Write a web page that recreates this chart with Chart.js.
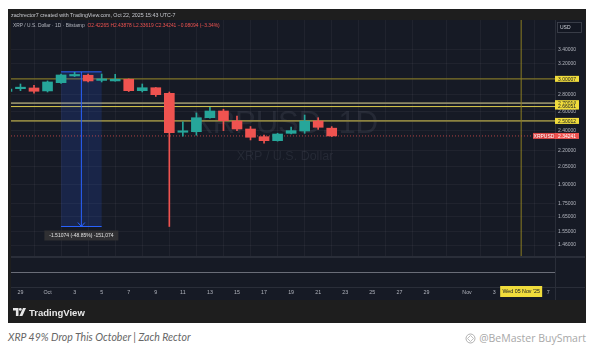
<!DOCTYPE html>
<html>
<head>
<meta charset="utf-8">
<script src="https://cdn.jsdelivr.net/npm/chart.js@4.4.1/dist/chart.umd.min.js"></script>
<style>
  body { margin: 0; background: #fff; width: 592px; height: 352px; position: relative; overflow: hidden; font-family: "Liberation Sans", Arial, sans-serif; }
  #panel { position: absolute; left: 8px; top: 9px; width: 578px; height: 314px; background: #1e1e1e; }
  #chart { position: absolute; left: 0; top: 0; }
  .hdr { position: absolute; left: 3px; top: 3px; font-size: 5.3px; color: #c8cad0; white-space: nowrap; }
  .legend { position: absolute; left: 5px; top: 14px; font-size: 4.9px; color: #b2b5be; white-space: nowrap; }
  .legend .v { color: #ef5350; margin-left: 1.5px; }
  .tv { position: absolute; left: 5px; top: 297px; height: 12px; display: flex; align-items: center; gap: 3px; color: #e8e8e8; font-weight: bold; font-size: 9.5px; }
  .caption { position: absolute; left: 8px; top: 331px; font-family: Lato, "Open Sans", sans-serif; font-style: italic; font-size: 10.5px; color: #666; }
  .mark { position: absolute; right: 6px; top: 331px; font-family: "Open Sans", sans-serif; font-size: 10.5px; color: #a8a8a8; display: flex; align-items: center; gap: 3px; }
</style>
</head>
<body>
<div id="panel">
  <canvas id="chart" width="578" height="314"></canvas>
  <div class="hdr">zachrector7 created with TradingView.com, Oct 22, 2025 15:43 UTC-7</div>
  <div class="legend">XRP / U.S. Dollar · 1D · Bitstamp <span class="v">O2.42265</span><span class="v">H2.43878</span><span class="v">L2.33619</span><span class="v">C2.34241</span><span class="v">−0.08094 (−3.34%)</span></div>
  <div class="tv">
    <svg width="13" height="8" viewBox="0 0 13 8"><path d="M0 0h5.5v8h-2.6v-5.4H0z" fill="#e8e8e8"/><circle cx="7.3" cy="1.4" r="1.4" fill="#e8e8e8"/><path d="M10 0h3l-3.6 8H6.4z" fill="#e8e8e8"/></svg>
    <span>TradingView</span>
  </div>
</div>
<div class="caption">XRP 49% Drop This October | Zach Rector</div>
<div class="mark">
  <svg width="11" height="11" viewBox="0 0 11 11"><circle cx="5.5" cy="5.5" r="4.5" fill="none" stroke="#b0b0b0" stroke-width="1"/><path d="M5.5 2.5l3 3-3 3-3-3z" fill="none" stroke="#b0b0b0" stroke-width="0.8"/></svg>
  <span>@BeMaster BuySmart</span>
</div>
<script>
// daily candles, Sep 28 .. Oct 22 (day index = i - 1, Sep 29 = 0)
const days   = ['Sep 28','Sep 29','Sep 30','Oct 1','Oct 2','Oct 3','Oct 4','Oct 5','Oct 6','Oct 7','Oct 8','Oct 9','Oct 10',
                'Oct 11','Oct 12','Oct 13','Oct 14','Oct 15','Oct 16','Oct 17','Oct 18','Oct 19','Oct 20','Oct 21','Oct 22'];
const opens  = [2.840, 2.875, 2.884, 2.847, 2.951, 3.038, 3.047, 2.980, 2.973, 2.995, 2.850, 2.887, 2.818,
                2.380, 2.386, 2.535, 2.610, 2.499, 2.414, 2.335, 2.295, 2.369, 2.393, 2.499, 2.42265];
const highs  = [2.890, 2.934, 2.918, 2.973, 3.064, 3.087, 3.064, 3.064, 3.060, 3.000, 2.934, 2.890, 2.834,
                2.490, 2.588, 2.652, 2.630, 2.554, 2.440, 2.352, 2.370, 2.435, 2.565, 2.535, 2.43878];
const lows   = [2.820, 2.850, 2.820, 2.834, 2.940, 3.030, 2.960, 2.960, 2.970, 2.840, 2.834, 2.780, 1.582,
                2.340, 2.350, 2.530, 2.397, 2.397, 2.302, 2.269, 2.290, 2.362, 2.369, 2.410, 2.33619];
const closes = [2.870, 2.884, 2.843, 2.960, 3.051, 3.051, 2.973, 2.988, 2.995, 2.850, 2.887, 2.801, 2.376,
                2.393, 2.535, 2.610, 2.503, 2.414, 2.329, 2.295, 2.362, 2.397, 2.499, 2.432, 2.34241];

const xTickDays   = [0, 2, 4, 6, 8, 10, 12, 14, 16, 18, 20, 22, 24, 26, 28, 30, 33, 35, 37, 39];
const xTickLabels = ['29','Oct','3','5','7','9','11','13','15','17','19','21','23','25','27','29','Nov','3','','7'];
const yTicks = [3.4, 3.2, 3.0, 2.8, 2.6, 2.4, 2.2, 2.05, 1.9, 1.75, 1.65, 1.55, 1.46];

const levelPrices = [3.00007, 2.70014, 2.66051, 2.50012];
const lastPrice = 2.34241;
const markerDay = 37;
const markerLabel = "Wed 05 Nov '25";
const measureDays = [3, 6];
const measurePrices = [3.0926, 1.5819];
const measureLabel = '-1.51074 (-48.85%) -151,074';

const UP = '#26a69a', DOWN = '#ef5350';
const levelColors = ['#7c7226', '#8e8a66', '#d9c94a', '#8b8240'];
const levelWidths = [1.2, 1.6, 1, 1.6];
const candleColors = opens.map((o, i) => closes[i] >= o ? UP : DOWN);

const tvPlugin = {
  id: 'tv',
  beforeDraw(chart) {
    const ctx = chart.ctx, a = chart.chartArea;
    ctx.save();
    ctx.fillStyle = '#161a25';
    ctx.fillRect(a.left, a.top, 577 - a.left, 291 - a.top);
    ctx.restore();
  },
  beforeDatasetsDraw(chart) {
    const ctx = chart.ctx, a = chart.chartArea, x = chart.scales.x, y = chart.scales.y;
    ctx.save();
    // symbol watermark
    ctx.fillStyle = 'rgba(140,145,160,0.13)';
    ctx.textAlign = 'center';
    ctx.textBaseline = 'middle';
    ctx.font = '31px "Liberation Sans", Arial, sans-serif';
    ctx.fillText('XRPUSD, 1D', (a.left + a.right) / 2 + 2, 115);
    ctx.font = '12.5px "Liberation Sans", Arial, sans-serif';
    ctx.fillText('XRP / U.S. Dollar', (a.left + a.right) / 2 + 2, 148);

    // horizontal levels
    levelPrices.forEach((p, i) => {
      const py = y.getPixelForValue(p);
      ctx.strokeStyle = levelColors[i];
      ctx.lineWidth = levelWidths[i];
      ctx.beginPath(); ctx.moveTo(a.left, py); ctx.lineTo(a.right, py); ctx.stroke();
    });
    // vertical marker
    const mx = x.getPixelForValue(markerDay);
    ctx.strokeStyle = '#8a7d22';
    ctx.lineWidth = 1;
    ctx.beginPath(); ctx.moveTo(mx, a.top); ctx.lineTo(mx, a.bottom); ctx.stroke();

    // measure box
    const bx1 = x.getPixelForValue(measureDays[0]), bx2 = x.getPixelForValue(measureDays[1]);
    const by1 = y.getPixelForValue(measurePrices[0]), by2 = y.getPixelForValue(measurePrices[1]);
    ctx.fillStyle = 'rgba(41,98,255,0.16)';
    ctx.fillRect(bx1, by1, bx2 - bx1, by2 - by1);
    ctx.strokeStyle = '#2962ff';
    ctx.lineWidth = 1;
    const amx = (bx1 + bx2) / 2;
    ctx.beginPath();
    ctx.moveTo(bx1, by1); ctx.lineTo(bx2, by1);
    ctx.moveTo(bx1, by2); ctx.lineTo(bx2, by2);
    ctx.moveTo(amx, by1); ctx.lineTo(amx, by2);
    ctx.moveTo(amx - 3.5, by2 - 4); ctx.lineTo(amx, by2); ctx.lineTo(amx + 3.5, by2 - 4);
    ctx.stroke();

    // last price line
    const ly = y.getPixelForValue(lastPrice);
    ctx.strokeStyle = 'rgba(239,83,80,0.7)';
    ctx.setLineDash([1, 2]);
    ctx.beginPath(); ctx.moveTo(a.left, ly); ctx.lineTo(a.right, ly); ctx.stroke();
    ctx.restore();
  },
  afterDraw(chart) {
    const ctx = chart.ctx, a = chart.chartArea, x = chart.scales.x, y = chart.scales.y;
    ctx.save();
    // pane separators
    ctx.fillStyle = '#2a2e39';
    ctx.fillRect(a.left, a.bottom - 1, 577 - a.left, 2);
    ctx.fillRect(a.left, 278, 577 - a.left, 1);
    ctx.fillRect(a.right, a.top, 1, 291 - a.top);
    ctx.fillStyle = '#6a6d78';
    ctx.fillRect(a.left, 263, a.right - a.left, 1);

    ctx.textBaseline = 'middle';
    ctx.font = '5px "Liberation Sans", Arial, sans-serif';
    // level labels
    levelPrices.forEach(p => {
      const py = y.getPixelForValue(p);
      ctx.fillStyle = '#f0dc3c';
      ctx.fillRect(a.right, py - 3, 24, 6);
      ctx.fillStyle = '#131722';
      ctx.textAlign = 'center';
      ctx.fillText(p.toFixed(5), a.right + 12, py + 0.3);
    });
    // last price label
    const ly = y.getPixelForValue(lastPrice);
    ctx.fillStyle = '#d94545';
    ctx.fillRect(a.right - 22, ly - 3, 22, 6);
    ctx.fillStyle = '#ef5350';
    ctx.fillRect(a.right, ly - 3, 24, 6);
    ctx.fillStyle = '#fff';
    ctx.textAlign = 'center';
    ctx.fillText('XRPUSD', a.right - 11, ly + 0.3);
    ctx.fillText(lastPrice.toFixed(5), a.right + 12, ly + 0.3);

    // USD box
    ctx.fillStyle = '#131722';
    ctx.fillRect(a.right + 2, 13, 25, 11);
    ctx.strokeStyle = '#434651';
    ctx.lineWidth = 0.8;
    ctx.strokeRect(a.right + 2.5, 13.5, 24, 10);
    ctx.fillStyle = '#d1d4dc';
    ctx.textAlign = 'left';
    ctx.fillText('USD', a.right + 5, 18.8);

    // measure label
    const bx1 = x.getPixelForValue(measureDays[0]), bx2 = x.getPixelForValue(measureDays[1]);
    const by2 = y.getPixelForValue(measurePrices[1]);
    const amx = (bx1 + bx2) / 2;
    ctx.fillStyle = 'rgba(50,50,52,0.95)';
    ctx.fillRect(amx - 37, by2 + 4, 74, 10);
    ctx.fillStyle = '#e0e0e0';
    ctx.textAlign = 'center';
    ctx.fillText(measureLabel, amx, by2 + 9.2);

    // crosshair date label
    const mx = x.getPixelForValue(markerDay);
    ctx.fillStyle = '#f0dc3c';
    ctx.fillRect(mx - 21, 277, 42, 11);
    ctx.fillStyle = '#131722';
    ctx.font = '5.3px "Liberation Sans", Arial, sans-serif';
    ctx.fillText(markerLabel, mx, 282.8);
    ctx.restore();
  }
};

const ctx = document.getElementById('chart').getContext('2d');
new Chart(ctx, {
  type: 'bar',
  data: {
    datasets: [
      {
        label: 'wick',
        data: days.map((d, i) => ({ x: i - 1, y: [lows[i], highs[i]] })),
        backgroundColor: candleColors,
        barThickness: 1,
        grouped: false,
        order: 2
      },
      {
        label: 'body',
        data: days.map((d, i) => ({ x: i - 1, y: [Math.min(opens[i], closes[i]), Math.max(opens[i], closes[i])] })),
        backgroundColor: candleColors,
        barThickness: 10,
        minBarLength: 1.5,
        grouped: false,
        order: 1
      }
    ]
  },
  options: {
    responsive: false,
    animation: false,
    devicePixelRatio: 1,
    layout: { padding: { left: 3, top: 11, right: 0, bottom: 0 } },
    plugins: { legend: { display: false }, tooltip: { enabled: false } },
    scales: {
      x: {
        type: 'linear',
        min: -0.7,
        max: 39.5,
        offset: false,
        afterBuildTicks: s => { s.ticks = xTickDays.map(v => ({ value: v })); },
        afterFit: s => { s.height = 66; },
        // long transparent tick marks push the day labels down below the empty lower pane
        grid: { color: 'rgba(255,255,255,0.045)', drawTicks: true, tickLength: 32, tickColor: 'rgba(0,0,0,0)' },
        border: { display: false },
        ticks: {
          autoSkip: false, maxRotation: 0, padding: 0,
          color: '#b2b5be', font: { size: 5.3, family: '"Liberation Sans", Arial, sans-serif' },
          callback: v => xTickLabels[xTickDays.indexOf(v)] ?? ''
        }
      },
      y: {
        type: 'logarithmic',
        position: 'right',
        min: 1.386,
        max: 3.872,
        afterBuildTicks: s => { s.ticks = yTicks.map(v => ({ value: v })); },
        afterFit: s => { s.width = 31; },
        grid: { color: 'rgba(255,255,255,0.045)', drawTicks: false },
        border: { display: false },
        ticks: {
          padding: 3,
          color: '#b2b5be', font: { size: 5, family: '"Liberation Sans", Arial, sans-serif' },
          callback: v => Number(v).toFixed(5)
        }
      }
    }
  },
  plugins: [tvPlugin]
});
</script>
</body>
</html>
